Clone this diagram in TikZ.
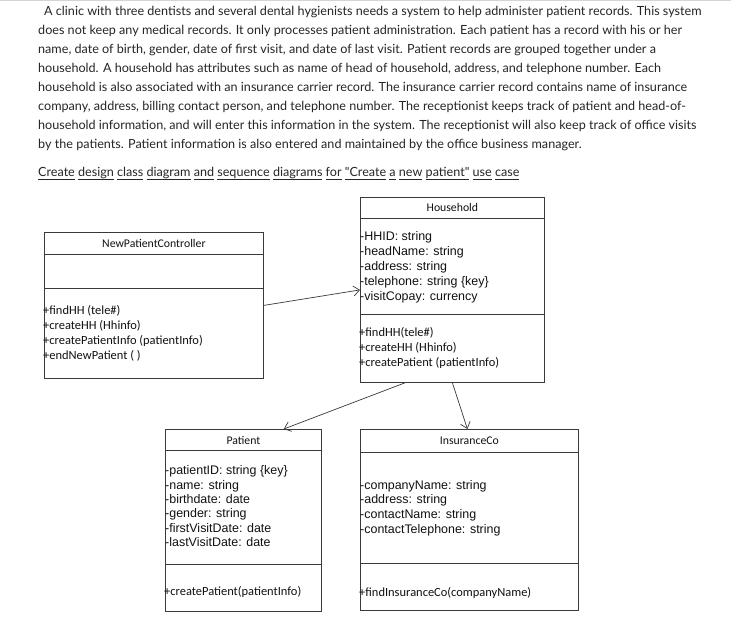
\documentclass[tikz,border=0pt]{standalone}
\usepackage{fontspec}
\setmainfont{Lato}[Ligatures=TeXOff]
\newfontfamily\calfont{Carlito}
\newfontfamily\arialfont{Liberation Sans}
\usetikzlibrary{arrows.meta,positioning}
\definecolor{Ink}{HTML}{111111}
\definecolor{Prose}{HTML}{262626}
\definecolor{Edge}{HTML}{3A3A3A}
\definecolor{Frame}{HTML}{D4D4D4}
\newsavebox\ulbox
\newcommand\ulword[1]{\sbox\ulbox{#1}\rlap{\rule[-2.4bp]{\wd\ulbox}{0.6bp}}\usebox\ulbox}

\begin{document}
\begin{tikzpicture}[x=1bp,y=-1bp,
  prose/.style={font=\fontsize{12.65}{14}\selectfont,text=Prose,anchor=base west,inner sep=0},
  clsbox/.style={draw=Edge,line width=0.8bp,anchor=north west,inner sep=0},
  clsrule/.style={draw=Edge,line width=0.8bp},
  clshead/.style={font=\calfont\fontsize{11.8}{13}\selectfont,text=Ink,inner sep=0},
  clsattr/.style={font=\arialfont\fontsize{12.5}{14}\selectfont,text=Ink,anchor=base west,inner sep=0},
  clsop/.style={font=\calfont\fontsize{12.5}{14}\selectfont,text=Ink,anchor=base west,inner sep=0},
  assoc/.style={draw=Edge,line width=0.7bp,-{Straight Barb[length=6bp,width=10bp]}}]
  \useasboundingbox[fill=white] (0,0) rectangle (731,626);
  \draw[Frame] (0,0.5) -- (731,0.5);

  % problem statement
  \foreach \xx/\t [count=\i] in {
    44/{A clinic with three dentists and several dental hygienists needs a system to help administer patient records. This system},
    38/{does not keep any medical records. It only processes patient administration. Each patient has a record with his or her},
    38/{name, date of birth, gender, date of first visit, and date of last visit. Patient records are grouped together under a},
    38/{household. A household has attributes such as name of head of household, address, and telephone number. Each},
    38/{household is also associated with an insurance carrier record. The insurance carrier record contains name of insurance},
    38/{company, address, billing contact person, and telephone number. The receptionist keeps track of patient and head-of-},
    38/{household information, and will enter this information in the system. The receptionist will also keep track of office visits},
    38/{by the patients. Patient information is also entered and maintained by the office business manager.}} {
    \node[prose] (line\i) at (\xx,{16+19*(\i-1)}) {\t};
  }
  \node[prose] (task) at (38,177) {\ulword{Create} \ulword{design} \ulword{class} \ulword{diagram}
    \ulword{and} \ulword{sequence} \ulword{diagrams} \ulword{for} \ulword{"Create} \ulword{a}
    \ulword{new} \ulword{patient"} \ulword{use} \ulword{case}};

  % classes
  \node[clsbox,minimum width=219bp,minimum height=146bp] (npc) at (44,232) {};
  \node[clsbox,minimum width=184bp,minimum height=185bp] (hh) at (360,197) {};
  \node[clsbox,minimum width=156bp,minimum height=182bp] (pat) at (165,429) {};
  \node[clsbox,minimum width=218bp,minimum height=181bp] (ins) at (360,429) {};
  \foreach \n/\a/\b in {npc/254/288, hh/218/314, pat/450/564, ins/452/563} {
    \draw[clsrule] (\n.west |- 0,\a) -- (\n.east |- 0,\a);
    \draw[clsrule] (\n.west |- 0,\b) -- (\n.east |- 0,\b);
  }
  \node[clshead] (npc-name) at (npc.north |- 0,243) {NewPatientController};
  \node[clshead] (hh-name) at (hh.north |- 0,207.5) {Household};
  \node[clshead] (pat-name) at (pat.north |- 0,440) {Patient};
  \node[clshead] (ins-name) at (ins.north |- 0,441) {InsuranceCo};

  % NewPatientController
  \foreach \t [count=\i] in {+findHH (tele\#), +createHH (Hhinfo),
      +createPatientInfo (patientInfo), +endNewPatient ( )}
    \node[clsop] (npc-op\i) at (43,{314.5+14.9*(\i-1)}) {\t};

  % Household
  \foreach \t [count=\i] in {-HHID: string, -headName: string, -address: string,
      -telephone: string \{key\}, -visitCopay: currency}
    \node[clsattr] (hh-at\i) at (360,{240+15*(\i-1)}) {\t};
  \foreach \t [count=\i] in {+findHH(tele\#), +createHH (Hhinfo), +createPatient (patientInfo)}
    \node[clsop] (hh-op\i) at (359,{336.7+14.8*(\i-1)}) {\t};

  % Patient
  \foreach \t [count=\i] in {-patientID: string \{key\}, -name: string, -birthdate: date,
      -gender: string, -firstVisitDate: date, -lastVisitDate: date}
    \node[clsattr] (pat-at\i) at (165,{474.7+14.4*(\i-1)}) {\t};
  \node[clsop] (pat-op1) at (164,595.7) {+createPatient(patientInfo)};

  % InsuranceCo
  \foreach \t [count=\i] in {-companyName: string, -address: string,
      -contactName: string, -contactTelephone: string}
    \node[clsattr] (ins-at\i) at (360,{489+14.7*(\i-1)}) {\t};
  \node[clsop] (ins-op1) at (359,596.7) {+findInsuranceCo(companyName)};

  % associations
  \draw[assoc] (npc.east) -- (hh.west);
  \draw[assoc] ([xshift=45bp]hh.south west) -- ([xshift=-38bp]pat.north east);
  \draw[assoc] (hh.south) -- ([xshift=-2bp]ins.north);
\end{tikzpicture}
\end{document}
